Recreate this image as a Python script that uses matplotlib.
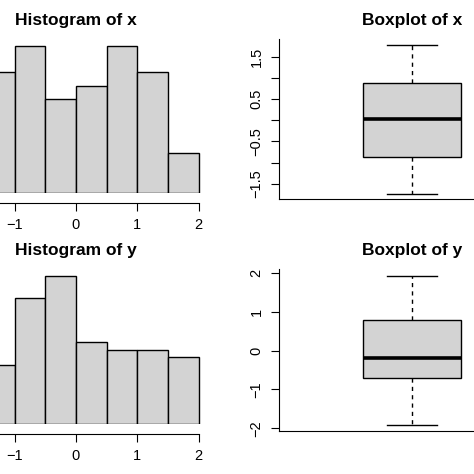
import matplotlib
matplotlib.use("Agg")
import matplotlib.pyplot as plt

plt.rcParams['font.family'] = ['Liberation Sans', 'DejaVu Sans']

# histogram bins and counts
bin_edges = [-2.0, -1.5, -1.0, -0.5, 0.0, 0.5, 1.0, 1.5, 2.0]
x_counts = [1, 9, 11, 7, 8, 11, 9, 3]
y_counts = [3, 8, 17, 20, 11, 10, 10, 9]

# boxplot stats: lower whisker, Q1, median, Q3, upper whisker
x_box = [-1.74, -0.87, 0.02, 0.89, 1.78]
y_box = [-1.91, -0.70, -0.18, 0.78, 1.91]

FW = FH = 474
fig = plt.figure(figsize=(4.74, 4.74), dpi=100)
GREY = '#d3d3d3'


def px_axes(left, top, width, height):
    return fig.add_axes([left / FW, 1 - (top + height) / FH, width / FW, height / FH])


def hist_panel(top, bottom, counts, ymax, title):
    ax = px_axes(-56.4, top, 264.8, bottom - top)
    lefts = bin_edges[:-1]
    widths = [b - a for a, b in zip(bin_edges[:-1], bin_edges[1:])]
    ax.bar(lefts, counts, width=widths, align='edge', color=GREY,
           edgecolor='black', linewidth=1.0)
    ax.set_xlim(-2.16, 2.16)
    ax.set_ylim(0, ymax)
    for s in ('top', 'right', 'left'):
        ax.spines[s].set_visible(False)
    ax.spines['bottom'].set_position(('outward', 7))
    ax.spines['bottom'].set_bounds(-2, 2)
    ax.set_xticks([-2, -1, 0, 1, 2])
    ax.set_xticklabels(['\u22122', '\u22121', '0', '1', '2'])
    ax.set_yticks([])
    ax.tick_params(axis='x', length=6, pad=5, labelsize=10.5)
    ax.set_title(title, fontsize=12.5, fontweight='bold', pad=10)


def box_panel(top, bottom, stats, ylim, ticks, labels, title):
    ax = px_axes(279, top, 266, bottom - top)
    lo, q1, med, q3, hi = stats
    ax.bxp([dict(whislo=lo, q1=q1, med=med, q3=q3, whishi=hi, fliers=[])],
           positions=[1], widths=0.372, patch_artist=True, showfliers=False,
           boxprops=dict(facecolor=GREY, edgecolor='black', linewidth=1.0),
           medianprops=dict(color='black', linewidth=2.6),
           whiskerprops=dict(color='black', linestyle=(0, (3, 3)), linewidth=1.0),
           capprops=dict(color='black', linewidth=1.0))
    ax.set_xlim(0.5, 1.5)
    ax.set_ylim(*ylim)
    ax.spines['top'].set_visible(False)
    ax.spines['right'].set_visible(False)
    ax.set_xticks([])
    ax.set_yticks(ticks)
    ax.set_yticklabels(labels, rotation=90, va='center')
    ax.tick_params(axis='y', length=6, pad=5, labelsize=10.5)
    ax.set_title(title, fontsize=12.5, fontweight='bold', pad=10)


hist_panel(39, 193, x_counts, 11.5, 'Histogram of x')
hist_panel(269, 424, y_counts, 20.9, 'Histogram of y')

xt = [-1.5, -1.0, -0.5, 0.0, 0.5, 1.0, 1.5]
xl = ['\u22121.5', '', '\u22120.5', '', '0.5', '', '1.5']
box_panel(39, 199.3, x_box, (-1.87, 1.92), xt, xl, 'Boxplot of x')
yt = [-2, -1, 0, 1, 2]
yl = ['\u22122', '\u22121', '0', '1', '2']
box_panel(269, 430.7, y_box, (-2.06, 2.1), yt, yl, 'Boxplot of y')

fig.savefig('out.png', dpi=100)
